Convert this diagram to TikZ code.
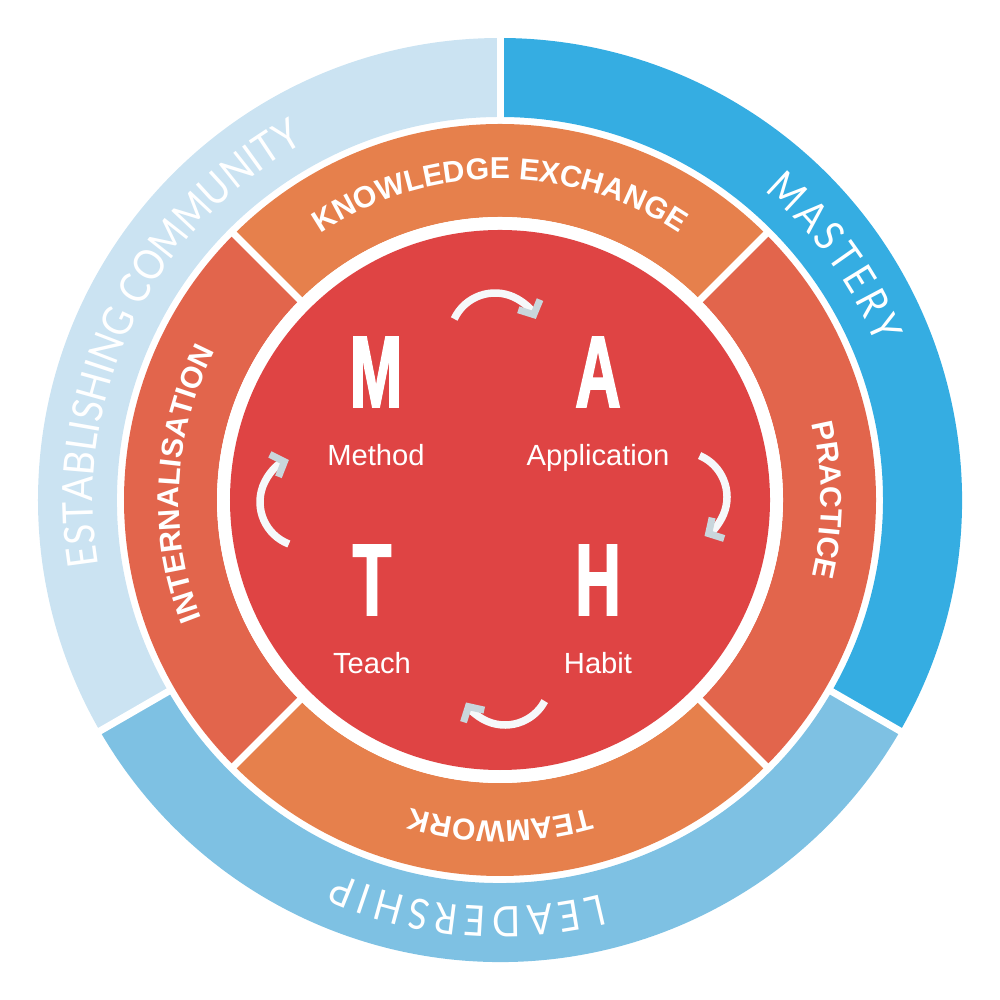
\documentclass[tikz,border=0pt]{standalone}
\usepackage{fontspec}
\usepackage{graphicx}
\setmainfont{Liberation Sans}
\newfontfamily\thinfont{Lato}[FakeStretch=0.88]
\newfontfamily\bigfont{Liberation Sans Bold}[FakeStretch=0.62, FakeBold=1.6]
\usetikzlibrary{arrows.meta,decorations.text,positioning}

\definecolor{commblue}{HTML}{CBE3F2}
\definecolor{mastblue}{HTML}{35ADE2}
\definecolor{leadblue}{HTML}{7EC1E3}
\definecolor{knoworange}{HTML}{E6804C}
\definecolor{pracorange}{HTML}{E2654C}
\definecolor{mathred}{HTML}{DF4444}
\definecolor{arrowwhite}{HTML}{F6F8FA}
\definecolor{chevgray}{HTML}{C9D6DC}

\tikzset{
  gapline/.style={white, line width=0.07cm},
  outertext/.style={decorate, decoration={text along path, text align=center, text color=white,
      text={|\thinfont\fontsize{12}{13}\selectfont|#1}}},
  spreadtext/.style={decorate, decoration={text along path, text align={fit to path}, text color=white,
      text={|\thinfont\fontsize{12}{13}\selectfont|#1}}},
  bandtext/.style={decorate, decoration={text along path, text align=center, text color=white,
      text={|\bfseries\fontsize{8.6}{10}\selectfont|#1}}},
  bigletter/.style={text=white, inner sep=0pt, font=\bigfont\fontsize{29}{30}\selectfont},
  smalltext/.style={text=white, inner sep=0pt, font=\fontsize{8.3}{10}\selectfont},
  cyclearrow/.style={draw=arrowwhite, line width=0.075cm,
      -{Straight Barb[color=chevgray, length=0.11cm, width=0.24cm, line width=0.07cm]}}
}

\begin{document}
\begin{tikzpicture}
                \useasboundingbox (-5,-5) rectangle (5,5);

                % Outer ring
                \fill[commblue] (90:4.62) arc[start angle=90, end angle=210, radius=4.62]
                    -- (210:3.83) arc[start angle=210, end angle=90, radius=3.83] -- cycle;
                \fill[leadblue] (210:4.62) arc[start angle=210, end angle=330, radius=4.62]
                    -- (330:3.83) arc[start angle=330, end angle=210, radius=3.83] -- cycle;
                \fill[mastblue] (-30:4.62) arc[start angle=-30, end angle=90, radius=4.62]
                    -- (90:3.83) arc[start angle=90, end angle=-30, radius=3.83] -- cycle;
                \draw[gapline] (0,0) -- (90:4.7);
                \draw[gapline] (0,0) -- (210:4.7);
                \draw[gapline] (0,0) -- (330:4.7);

                % Orange ring
                \fill[knoworange] (45:3.76) arc[start angle=45, end angle=135, radius=3.76]
                    -- (135:2.83) arc[start angle=135, end angle=45, radius=2.83] -- cycle;
                \fill[pracorange] (135:3.76) arc[start angle=135, end angle=225, radius=3.76]
                    -- (225:2.83) arc[start angle=225, end angle=135, radius=2.83] -- cycle;
                \fill[knoworange] (225:3.76) arc[start angle=225, end angle=315, radius=3.76]
                    -- (315:2.83) arc[start angle=315, end angle=225, radius=2.83] -- cycle;
                \fill[pracorange] (-45:3.76) arc[start angle=-45, end angle=45, radius=3.76]
                    -- (45:2.83) arc[start angle=45, end angle=-45, radius=2.83] -- cycle;
                \draw[gapline] (0,0) -- (45:3.8);
                \draw[gapline] (0,0) -- (135:3.8);
                \draw[gapline] (0,0) -- (225:3.8);
                \draw[gapline] (0,0) -- (315:3.8);

                % Inner disc
                \fill[white] (0,0) circle (2.83);
                \fill[mathred] (0,0) circle (2.70);

                % Ring labels
                \path[outertext={ESTABLISHING COMMUNITY}] (205:4.07) arc[start angle=205, end angle=103, radius=4.07];
                \path[spreadtext={MASTERY}] (49.5:4.07) arc[start angle=49.5, end angle=22.5, radius=4.07];
                \path[spreadtext={LEADERSHIP}] (284.5:4.07) arc[start angle=284.5, end angle=246.5, radius=4.07];
                \path[bandtext={KNOWLEDGE EXCHANGE}] (135:3.21) arc[start angle=135, end angle=45, radius=3.21];
                \path[bandtext={INTERNALISATION}] (222:3.21) arc[start angle=222, end angle=132, radius=3.21];
                \path[bandtext={PRACTICE}] (40:3.21) arc[start angle=40, end angle=-40, radius=3.21];
                \path[bandtext={TEAMWORK}] (310:3.21) arc[start angle=310, end angle=230, radius=3.21];

                % Nodes
                \node[bigletter] (M) at (-1.24,1.28) {M};
                \node[bigletter] (A) at (0.98,1.28) {A};
                \node[bigletter] (T) at (-1.28,-0.80) {T};
                \node[bigletter] (H) at (0.98,-0.80) {H};
                \node[smalltext, below=0.36cm of M] (method) {Method};
                \node[smalltext, below=0.36cm of A] (application) {Application};
                \node[smalltext, below=0.36cm of T] (teach) {Teach};
                \node[smalltext, below=0.36cm of H] (habit) {Habit};

                % Cycle arrows
                \coordinate (arrMA) at (-0.05,1.62);
                \coordinate (arrAH) at (1.82,0.03);
                \coordinate (arrHT) at (0.05,-1.80);
                \coordinate (arrTM) at (-1.95,-0.02);
                \draw[cyclearrow] ([shift={(155:0.45)}]arrMA) arc[start angle=155, end angle=25, radius=0.45];
                \draw[cyclearrow] ([shift={(67:0.45)}]arrAH) arc[start angle=67, end angle=-60, radius=0.45];
                \draw[cyclearrow] ([shift={(-28:0.45)}]arrHT) arc[start angle=-28, end angle=-150, radius=0.45];
                \draw[cyclearrow] ([shift={(249:0.45)}]arrTM) arc[start angle=249, end angle=111, radius=0.45];
\end{tikzpicture}
\end{document}
